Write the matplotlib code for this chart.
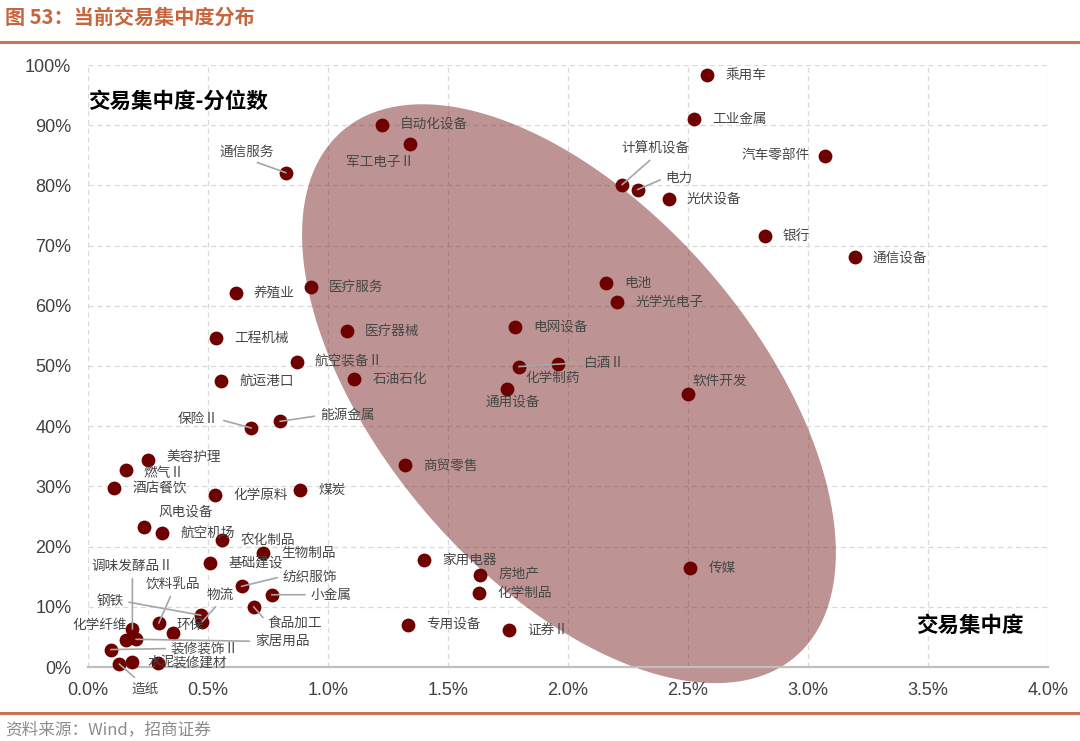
import numpy as np
import matplotlib
matplotlib.use("Agg")
import matplotlib.pyplot as plt
from matplotlib.lines import Line2D

plt.rcParams['font.family'] = ['Noto Sans CJK SC', 'DejaVu Sans']

# industry, transaction concentration (%), percentile (%)
names = ["乘用车", "工业金属", "汽车零部件", "计算机设备", "电力", "光伏设备", "银行", "通信设备",
         "电池", "光学光电子", "自动化设备", "军工电子Ⅱ", "通信服务", "养殖业", "医疗服务", "医疗器械",
         "工程机械", "电网设备", "航空装备Ⅱ", "白酒Ⅱ", "化学制药", "航运港口", "石油石化", "通用设备",
         "软件开发", "能源金属", "保险Ⅱ", "美容护理", "燃气Ⅱ", "商贸零售", "酒店餐饮", "化学原料",
         "煤炭", "风电设备", "航空机场", "农化制品", "生物制品", "家用电器", "基础建设", "房地产",
         "传媒", "纺织服饰", "小金属", "化学制品", "食品加工", "钢铁", "物流", "环保",
         "饮料乳品", "专用设备", "证券Ⅱ", "调味发酵品Ⅱ", "化学纤维", "家居用品", "装修装饰Ⅱ", "造纸",
         "水泥", "装修建材"]
conc = [2.58, 2.525, 3.07, 2.225, 2.29, 2.42, 2.82, 3.195,
        2.16, 2.205, 1.225, 1.34, 0.825, 0.615, 0.93, 1.08,
        0.535, 1.78, 0.87, 1.795, 1.96, 0.555, 1.11, 1.745,
        2.50, 0.80, 0.68, 0.25, 0.16, 1.32, 0.11, 0.53,
        0.885, 0.235, 0.31, 0.56, 0.73, 1.40, 0.51, 1.635,
        2.51, 0.64, 0.765, 1.63, 0.69, 0.47, 0.475, 0.355,
        0.295, 1.335, 1.755, 0.185, 0.16, 0.20, 0.095, 0.13,
        0.185, 0.29]
pctl = [98.4, 91.1, 84.9, 80.1, 79.3, 77.8, 71.6, 68.1,
        63.8, 60.7, 90.1, 86.9, 82.1, 62.2, 63.2, 55.8,
        54.7, 56.5, 50.7, 49.9, 50.4, 47.5, 47.9, 46.2,
        45.4, 40.8, 39.7, 34.4, 32.7, 33.5, 29.7, 28.6,
        29.4, 23.3, 22.3, 21.1, 18.9, 17.8, 17.3, 15.3,
        16.5, 13.4, 12.0, 12.3, 10.0, 8.6, 7.5, 5.6,
        7.3, 7.0, 6.1, 6.3, 4.5, 4.6, 2.9, 0.5,
        0.8, 0.7]

xticks = [0, 0.5, 1.0, 1.5, 2.0, 2.5, 3.0, 3.5, 4.0]
yticks = list(range(0, 101, 10))

# label placement in pixels relative to the point: dx, dy(down), ha, leader relpos
label_pos = {
    "汽车零部件": (-15, 0, "right", None),
    "计算机设备": (33, -36, "center", (0.5, 0)),
    "电力": (28, -12, "left", (0, 0.5)),
    "军工电子Ⅱ": (-30, 18, "center", None),
    "通信服务": (-39, -21, "center", (0.5, 0)),
    "化学制药": (-6, 14, "center", None),
    "白酒Ⅱ": (64, -4, "left", (0, 0.5)),
    "通用设备": (6, 13, "center", None),
    "软件开发": (32, -13, "center", None),
    "能源金属": (40, -6, "left", (0, 0.5)),
    "保险Ⅱ": (-33, -9, "right", (1, 0.5)),
    "美容护理": (18, -3, "left", None),
    "燃气Ⅱ": (17, 3, "left", None),
    "风电设备": (41, -15, "center", None),
    "纺织服饰": (41, -10, "left", (0, 0.5)),
    "小金属": (39, 0, "left", (0, 0.5)),
    "食品加工": (14, 16, "left", (0, 0.5)),
    "物流": (18, -27, "center", (0.5, 0)),
    "钢铁": (-91, -14, "center", (1, 0.5)),
    "饮料乳品": (14, -39, "center", (0.5, 0)),
    "调味发酵品Ⅱ": (0, -63, "center", (0.5, 0)),
    "化学纤维": (-27, -15, "center", None),
    "家居用品": (119, 2, "left", (0, 0.5)),
    "环保": (17, -8, "center", None),
    "装修装饰Ⅱ": (60, -1, "left", (0, 0.5)),
    "造纸": (26, 25, "center", (0.3, 1)),
    "水泥": (15, 0, "left", None),
    "装修建材": (15, 0, "left", None),
}

W, H = 1080, 741
fig = plt.figure(figsize=(W / 100, H / 100), dpi=100)
ax = fig.add_axes([88 / W, 1 - 667 / H, 960 / W, 602 / H])

ax.set_xlim(0, 4)
ax.set_ylim(0, 100)

# highlighted ellipse, shape defined in screen pixels
px_x = 960 / 4
px_y = 602 / 100
cx, cy = 2.004, 45.4
a, b, phi = 347, 186, np.deg2rad(49.2)
t = np.linspace(0, 2 * np.pi, 300)
ex = a * np.cos(t) * np.cos(phi) - b * np.sin(t) * np.sin(phi)
ey = a * np.cos(t) * np.sin(phi) + b * np.sin(t) * np.cos(phi)
ax.fill(cx + ex / px_x, cy - ey / px_y, color="#7D2828", alpha=0.5, lw=0,
        zorder=1, clip_on=False)

ax.set_xticks(xticks)
ax.set_yticks(yticks)
ax.set_xticklabels([f"{v:.1f}%" for v in xticks])
ax.set_yticklabels([f"{v}%" for v in yticks])
ax.grid(True, color="#D9D9D9", linestyle=(0, (4, 3)), linewidth=0.9, zorder=0)
ax.set_axisbelow(True)
for s in ["top", "right", "left"]:
    ax.spines[s].set_visible(False)
ax.spines["bottom"].set_color("#BFBFBF")
ax.spines["bottom"].set_linewidth(1.6)
ax.tick_params(length=0, labelsize=13, labelcolor="#404040")
ax.tick_params(axis="x", pad=11)
ax.tick_params(axis="y", pad=12)
for lab in ax.get_xticklabels() + ax.get_yticklabels():
    lab.set_family("Liberation Sans")

ax.scatter(conc, pctl, s=80, color="#6E0000", zorder=4, clip_on=False)

for n, x, y in zip(names, conc, pctl):
    dx, dy, ha, rel = label_pos.get(n, (18, 0, "left", None))
    kw = {}
    if rel is not None:
        kw["arrowprops"] = dict(arrowstyle="-", color="#A6A6A6", lw=1.2,
                                relpos=rel, shrinkA=2, shrinkB=0)
    ax.annotate(n, xy=(x, y), xytext=(dx, -dy), textcoords="offset pixels",
                ha=ha, va="center", fontsize=9.8, color="#474747", zorder=5, **kw)

ax.text(0.0, 94, "交易集中度-分位数", fontsize=15.5, fontweight="bold", color="black",
        ha="left", va="center", zorder=6)
ax.text(3.9, 7, "交易集中度", fontsize=15.5, fontweight="bold", color="black",
        ha="right", va="center", zorder=6)

# header / footer
fig.text(5 / W, 1 - 17 / H, "图 53：当前交易集中度分布", fontsize=14.5, fontweight="bold",
         color="#C5663F", ha="left", va="center")
fig.add_artist(Line2D([0, 1], [1 - 42 / H, 1 - 42 / H], color="#C97556", lw=2.2))
fig.add_artist(Line2D([0, 1], [1 - 713 / H, 1 - 713 / H], color="#C97556", lw=2.2))
fig.text(5 / W, 1 - 730 / H, "资料来源：Wind，招商证券", fontsize=12, color="#8C8C8C",
         ha="left", va="center")

fig.savefig("out.png", dpi=100)
